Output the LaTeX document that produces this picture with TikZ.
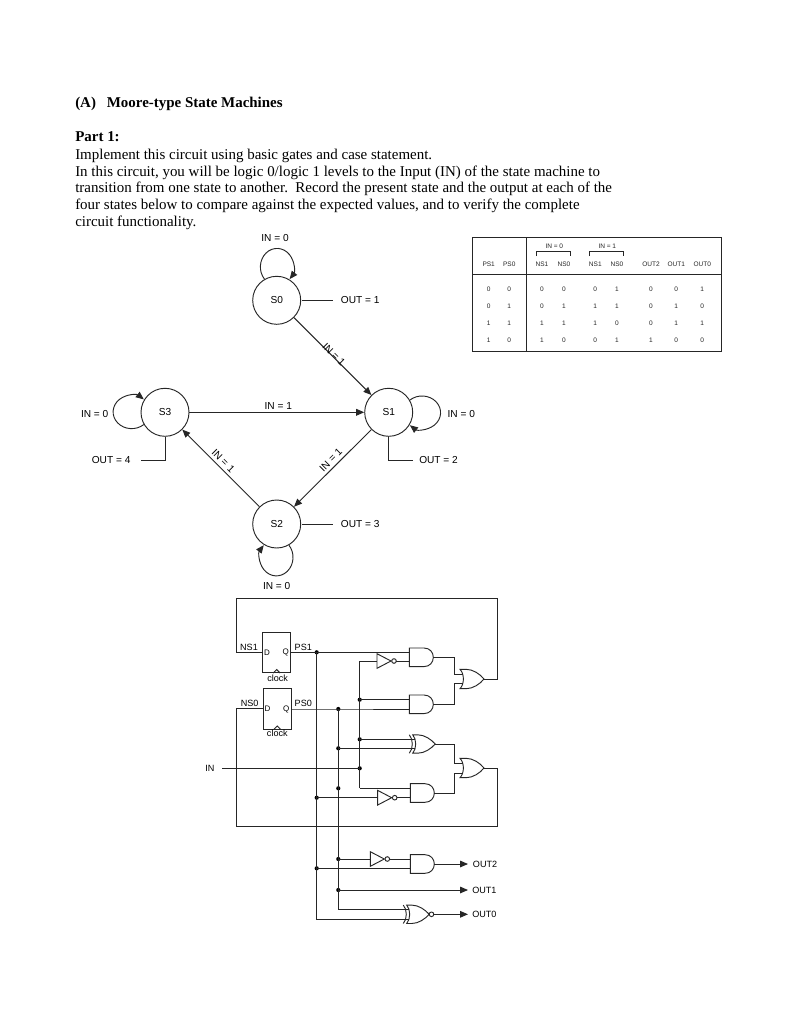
\documentclass[tikz,border=0pt]{standalone}
\usepackage{fontspec}
\setmainfont{Liberation Sans}
\newfontfamily\serifdoc{Liberation Serif}
\usetikzlibrary{arrows.meta}
\tikzset{
  x=0.75pt,y=-0.75pt,
  wire/.style={draw=black!85,line width=0.7pt},
  arrowwire/.style={wire,-{Triangle[length=6pt,width=5pt]}},
  statecirc/.style={circle,draw=black!85,line width=0.7pt,minimum size=36pt,inner sep=0pt,font=\fontsize{7.6}{9}\selectfont},
  lab/.style={inner sep=0pt,font=\fontsize{7.6}{9}\selectfont},
  tabtext/.style={inner sep=0pt,font=\fontsize{4.9}{6}\selectfont,text=black!85},
  cirtext/.style={inner sep=0pt,font=\fontsize{6.8}{8}\selectfont},
  pintext/.style={inner sep=0pt,font=\fontsize{6}{7}\selectfont},
  doctext/.style={inner sep=0pt,anchor=base west,font=\serifdoc\fontsize{11.22}{13}\selectfont},
  docbold/.style={doctext,font=\serifdoc\bfseries\fontsize{11.22}{13}\selectfont},
  ffbox/.style={rectangle,draw=black!85,line width=0.7pt,minimum width=21pt,minimum height=30.3pt,inner sep=0pt},
  dot/.style={fill=black}
}
\newcommand{\jdot}[3]{\coordinate (#1) at (#2,#3); \fill[dot] (#1) circle[radius=2.1];}
\newcommand{\andgate}[3]{%
  \begin{scope}[shift={(#2,#3)}]
  \coordinate (#1) at (0,0);
  \coordinate (#1o) at (24,0);
  \draw[wire] (0,-9.3) -- (14.7,-9.3) .. controls (20.5,-9.3) and (24,-5) .. (24,0)
     .. controls (24,5) and (20.5,9.3) .. (14.7,9.3) -- (0,9.3) -- cycle;
  \end{scope}}
\newcommand{\orgate}[3]{%
  \begin{scope}[shift={(#2,#3)}]
  \coordinate (#1) at (3,0);
  \coordinate (#1o) at (24,0);
  \draw[wire] (0,-9.7) -- (6,-9.7) .. controls (13,-9.7) and (20,-5) .. (24,0)
     .. controls (20,5) and (13,9.7) .. (6,9.7) -- (0,9.7) .. controls (4.5,5) and (4.5,-5) .. (0,-9.7) -- cycle;
  \end{scope}}
\newcommand{\xorgate}[3]{%
  \begin{scope}[shift={(#2,#3)}]
  \coordinate (#1) at (2.2,0);
  \coordinate (#1o) at (22.5,0);
  \draw[wire] (0,-9.2) -- (5,-9.2) .. controls (12,-9.2) and (18.5,-4.5) .. (22.5,0)
     .. controls (18.5,4.5) and (12,9.2) .. (5,9.2) -- (0,9.2) .. controls (4,5) and (4,-5) .. (0,-9.2) -- cycle;
  \draw[wire] (-3.4,-9.2) .. controls (0.6,-5) and (0.6,5) .. (-3.4,9.2);
  \end{scope}}
\newcommand{\invgate}[3]{%
  \begin{scope}[shift={(#2,#3)}]
  \coordinate (#1) at (0,0);
  \coordinate (#1o) at (19.3,0);
  \draw[wire] (0,-7.3) -- (14,0) -- (0,7.3) -- cycle;
  \draw[wire] (17,0) circle[radius=2.3];
  \end{scope}}
\begin{document}
\begin{tikzpicture}
\useasboundingbox (0,0) rectangle (791,1024);
\fill[white] (0,0) rectangle (791,1024);
% ---- document text
\node[docbold] (t1) at (75,107.3) {(A)\hspace{0.72em}Moore-type State Machines};
\node[docbold] (t2) at (75,141.7) {Part 1:};
\node[doctext] (t3) at (75,159) {Implement this circuit using basic gates and case statement.};
\node[doctext] (t4) at (75,176) {In this circuit, you will be logic 0/logic 1 levels to the Input (IN) of the state machine to};
\node[doctext] (t5) at (75,192.8) {transition from one state to another.\ \ Record the present state and the output at each of the};
\node[doctext] (t6) at (75,209.7) {four states below to compare against the expected values, and to verify the complete};
\node[doctext] (t7) at (75,226.5) {circuit functionality.};
% ---- state machine
\node[statecirc] (S0) at (276.7,300.3) {S0};
\node[statecirc] (S1) at (388.7,412.3) {S1};
\node[statecirc] (S2) at (276.7,524) {S2};
\node[statecirc] (S3) at (165,412.3) {S3};
\draw[arrowwire] (S0) -- (S1);
\draw[arrowwire] (S1) -- (S2);
\draw[arrowwire] (S2) -- (S3);
\draw[arrowwire] (S3) -- (S1);
\draw[arrowwire] (S0.120) arc[start angle=221,end angle=-41,x radius=12.5pt,y radius=13.9pt];
\draw[arrowwire] (S1.30) [rotate=-90] arc[start angle=221,end angle=-41,x radius=12.5pt,y radius=13.9pt];
\draw[arrowwire] (S2.-60) [rotate=180] arc[start angle=221,end angle=-41,x radius=12.5pt,y radius=13.9pt];
\draw[arrowwire] (S3.210) [rotate=90] arc[start angle=221,end angle=-41,x radius=12.5pt,y radius=13.9pt];
\node[lab] (l00) at (275,238.3) {IN = 0};
\node[lab] (l10) at (461.3,414) {IN = 0};
\node[lab] (l30) at (94.7,414) {IN = 0};
\node[lab] (l20) at (276.7,586) {IN = 0};
\node[lab,rotate=-45] (e01) at (334,354.3) {IN = 1};
\node[lab,rotate=45] (e12) at (330.7,460) {IN = 1};
\node[lab,rotate=-45] (e23) at (223.3,461) {IN = 1};
\node[lab] (e31) at (278.3,406) {IN = 1};
\coordinate (c0) at (333.3,300.3);
\coordinate (c2) at (333.3,524);
\coordinate (c1) at (413.3,460);
\coordinate (c3) at (141,460);
\node[lab,anchor=west] (o0) at (340.7,300.3) {OUT = 1};
\node[lab,anchor=west] (o1) at (419,460) {OUT = 2};
\node[lab,anchor=west] (o2) at (340.7,524) {OUT = 3};
\node[lab,anchor=east] (o3) at (130.7,460) {OUT = 4};
\draw[wire] (S0.east) ++(1,0) -- (c0);
\draw[wire] (S2.east) ++(1,0) -- (c2);
\draw[wire] (S1.south) |- (c1);
\draw[wire] (S3.south) |- (c3);
% ---- table
\node[rectangle,draw=black!85,line width=0.7pt,minimum width=186.75pt,minimum height=85.5pt,inner sep=0pt] (tab) at (596.5,294) {};
\coordinate (hl) at (472,274);
\coordinate (hr) at (721,274);
\coordinate (vt) at (526.7,237);
\coordinate (vb) at (526.7,351);
\draw[wire] (hl) -- (hr);
\draw[wire] (vt) -- (vb);
\foreach \tx/\ty/\tt in {488.7/264.7/PS1,509.3/264.7/PS0,542/264.7/NS1,564/264.7/NS0,595.3/264.7/NS1,617/264.7/NS0,651/264.7/OUT2,676.3/264.7/OUT1,702.3/264.7/OUT0,
 554.3/246/{IN = 0},607.3/246/{IN = 1},
 488.7/289/0,509.3/289/0,542/289/0,564/289/0,595.3/289/0,617/289/1,651/289/0,676.3/289/0,702.3/289/1,
 488.7/306.3/0,509.3/306.3/1,542/306.3/0,564/306.3/1,595.3/306.3/1,617/306.3/1,651/306.3/0,676.3/306.3/1,702.3/306.3/0,
 488.7/323/1,509.3/323/1,542/323/1,564/323/1,595.3/323/1,617/323/0,651/323/0,676.3/323/1,702.3/323/1,
 488.7/340/1,509.3/340/0,542/340/1,564/340/0,595.3/340/0,617/340/1,651/340/1,676.3/340/0,702.3/340/0}
  {\node[tabtext] at (\tx,\ty) {\tt};}
\coordinate (b1a) at (536.7,256); \coordinate (b1b) at (536.7,251.7);
\coordinate (b1c) at (570.7,251.7); \coordinate (b1d) at (570.7,256);
\coordinate (b2a) at (589,256); \coordinate (b2b) at (589,251.7);
\coordinate (b2c) at (623,251.7); \coordinate (b2d) at (623,256);
\draw[wire,line width=0.5pt] (b1a) -- (b1b) -- (b1c) -- (b1d);
\draw[wire,line width=0.5pt] (b2a) -- (b2b) -- (b2c) -- (b2d);
% ---- flip-flops
\node[ffbox] (FF1) at (276.7,652.4) {};
\node[ffbox] (FF2) at (277.3,708.8) {};
\node[pintext] (d1) at (267,652.6) {D};
\node[pintext] (q1) at (285.7,652.6) {Q};
\node[pintext] (d2) at (267.5,709) {D};
\node[pintext] (q2) at (286.2,709) {Q};
\foreach \n in {FF1,FF2} {
  \draw[wire] ([xshift=-2.6pt]\n.south) -- ([yshift=2.6pt]\n.south) -- ([xshift=2.6pt]\n.south);
}
\node[cirtext] (ck1) at (277.7,678.7) {clock};
\node[cirtext] (ck2) at (277.3,733.7) {clock};
\node[cirtext] (ns1) at (249,647.3) {NS1};
\node[cirtext] (ps1) at (303.3,647.3) {PS1};
\node[cirtext] (ns0) at (249.7,703.3) {NS0};
\node[cirtext] (ps0) at (303.3,703.3) {PS0};
\node[cirtext] (inl) at (210,768.3) {IN};
\node[cirtext,anchor=west] (out2) at (472.7,864) {OUT2};
\node[cirtext,anchor=west] (out1) at (472,890) {OUT1};
\node[cirtext,anchor=west] (out0) at (472,914.3) {OUT0};
% ---- gates
\andgate{A1}{409.3}{657.3}
\andgate{A2}{409.3}{704.3}
\andgate{A3}{410.3}{793}
\andgate{A4}{410.3}{864}
\orgate{O1}{460}{679}
\orgate{O2}{460}{768}
\xorgate{X1}{412.7}{744}
\xorgate{X2}{406.7}{914.3}
\invgate{I1}{377}{661}
\invgate{I2}{377.7}{797.7}
\invgate{I3}{370.3}{859}
\coordinate (X2c) at (431.5,914.3);
\draw[wire] (X2c) circle[radius=2.3];
\coordinate (X2b) at (433.8,914.3);
% ---- junctions
\jdot{P1a}{316.7}{652.3}
\jdot{P1b}{316.7}{797.7}
\jdot{P1c}{316.7}{868.3}
\jdot{P0a}{338.3}{709}
\jdot{P0b}{338.3}{748.3}
\jdot{P0c}{338.3}{788.3}
\jdot{P0d}{338.3}{859}
\jdot{P0e}{338.3}{890}
\jdot{Ia}{359.7}{699.7}
\jdot{Ib}{359.7}{739.3}
\jdot{Ic}{359.7}{768.3}
\coordinate (P1z) at (316.7,919);
\coordinate (P0z) at (338.3,909.7);
\coordinate (It) at (359.7,661);
\coordinate (Iz) at (359.7,788.3);
\coordinate (INs) at (222.3,768.3);
\coordinate (FBa) at (497.3,598.3);
\coordinate (FBb) at (236.7,598.3);
\coordinate (FCa) at (236.7,826.7);
\coordinate (FCb) at (497.3,826.7);
\coordinate (E2) at (468,864);
\coordinate (E1) at (468,890);
\coordinate (E0) at (468,914.3);
\coordinate (R1) at (454,674);
\coordinate (R2) at (454,683.7);
\coordinate (R3) at (454,763);
\coordinate (R4) at (454,773);
% ---- feedback and wiring
\draw[wire] (O1o) -| (FBa) -- (FBb) |- (FF1.west);
\draw[wire] (O2o) -| (FCb) -- (FCa) |- (FF2.west);
\draw[wire] (FF1.east |- P1a) -- (P1a) -- (P1a -| A1);
\draw[wire] (FF2.east |- P0a) -- (P0a) -- (P0a -| A2);
\draw[wire] (P1a) -- (P1z) -- (P1z -| X2);
\draw[wire] (P0a) -- (P0z) -- (P0z -| X2);
\draw[wire] (INs) -- (Ic);
\draw[wire] (It) -- (Iz);
\draw[wire] (It) -- (I1);
\draw[wire] (I1o) -- (I1o -| A1);
\draw[wire] (Ia) -- (Ia -| A2);
\draw[wire] (Ib) -- (Ib -| X1);
\draw[wire] (P0b) -- (P0b -| X1);
\draw[wire] (Iz) -- (Iz -| A3);
\draw[wire] (P1b) -- (I2);
\draw[wire] (I2o) -- (I2o -| A3);
\draw[wire] (P0d) -- (I3);
\draw[wire] (I3o) -- (I3o -| A4);
\draw[wire] (P1c) -- (P1c -| A4);
\draw[wire] (A1o) -| (R1) -- (R1 -| O1);
\draw[wire] (A2o) -| (R2) -- (R2 -| O1);
\draw[wire] (X1o) -| (R3) -- (R3 -| O2);
\draw[wire] (A3o) -| (R4) -- (R4 -| O2);
\draw[arrowwire] (A4o) -- (E2);
\draw[arrowwire] (P0e) -- (E1);
\draw[arrowwire] (X2b) -- (E0);
\end{tikzpicture}
\end{document}
